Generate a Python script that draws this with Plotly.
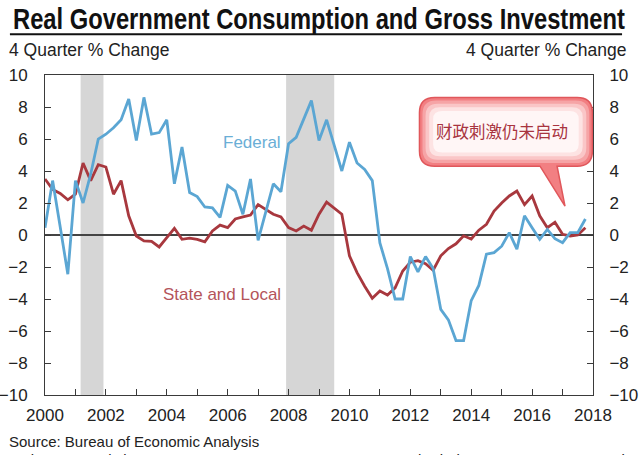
import plotly.graph_objects as go

# ---- data (quarterly, 2000Q1 - 2017Q4), 4-quarter % change ----
start_year = 2000
federal = [0.45, 3.4, 0.5, -2.45, 3.4, 2.0, 3.8, 6.0, 6.3, 6.7, 7.2, 8.5,
           5.9, 8.6, 6.3, 6.4, 7.2, 3.2, 5.5, 2.65, 2.4, 1.75, 1.7, 1.1,
           3.1, 2.75, 1.3, 3.5, -0.33, 1.4, 3.2, 2.7, 5.7, 6.1, 7.3, 8.4,
           5.9, 7.2, 5.6, 4.0, 5.8, 4.5, 4.1, 3.4, -0.5, -2.1, -4.0, -4.0,
           -1.35, -2.3, -1.35, -2.1, -4.65, -5.3, -6.6, -6.6, -4.1, -3.15, -1.2, -1.1,
           -0.7, 0.15, -0.88, 1.2, 0.45, -0.27, 0.35, -0.23, -0.48, 0.15, 0.15, 1.0]
state_local = [3.5, 2.85, 2.6, 2.2, 2.55, 4.5, 3.4, 4.4, 4.25, 2.55, 3.4, 1.2,
               -0.06, -0.37, -0.4, -0.75, -0.17, 0.42, -0.27, -0.2, -0.27, -0.43, 0.25, 0.62,
               0.46, 1.0, 1.13, 1.25, 1.9, 1.6, 1.3, 1.13, 0.46, 0.25, 0.56, 0.3,
               1.3, 2.06, 1.7, 1.3, -1.3, -2.35, -3.2, -3.96, -3.5, -3.75, -3.3, -2.25,
               -1.7, -1.6, -1.8, -2.2, -1.3, -0.85, -0.55, -0.05, -0.25, 0.3, 0.67, 1.5,
               2.0, 2.44, 2.75, 1.9, 2.44, 1.2, 0.46, 0.8, 0.04, -0.06, 0.0, 0.46]
recessions = [(2001.17, 2001.92), (2007.92, 2009.5)]
x_tick_vals = list(range(2000, 2019, 2))
y_tick_vals = list(range(-10, 11, 2))
x_range = [2000, 2018]
y_range = [-10, 10]

dates = [start_year + i / 4 for i in range(len(federal))]

FONT = "Liberation Sans"
AX = "#3a3a3a"
TITLE = "Real Government Consumption and Gross Investment"

fig = go.Figure()
fig.add_trace(go.Scatter(x=dates, y=state_local, mode="lines", name="State and Local",
                         line=dict(color="#a8383e", width=2.8), showlegend=False))
fig.add_trace(go.Scatter(x=dates, y=federal, mode="lines", name="Federal",
                         line=dict(color="#5ba6d3", width=2.8), showlegend=False))
# invisible trace to activate right axis
fig.add_trace(go.Scatter(x=[dates[0]], y=[federal[0]], yaxis="y2", mode="markers",
                         marker=dict(opacity=0), showlegend=False, hoverinfo="skip"))

shapes = []
for a, b in recessions:
    shapes.append(dict(type="rect", xref="x", yref="y", x0=a, x1=b, y0=y_range[0], y1=y_range[1],
                       fillcolor="#d6d6d6", line=dict(width=0), layer="below"))

# title underline
shapes.append(dict(type="line", xref="paper", yref="paper", x0=-0.064, x1=1.053, y0=1.127, y1=1.127,
                   line=dict(color="#111", width=2)))

# speech bubble (annotation decoration)
def bubble(x0, x1, y0, y1, rx, ry, tail=None):
    p = f"M {x0+rx},{y1} L {x1-rx},{y1} Q {x1},{y1} {x1},{y1-ry} L {x1},{y0+ry} Q {x1},{y0} {x1-rx},{y0} "
    if tail:
        tx0, tx1, tipx, tipy = tail
        p += f"L {tx1},{y0} L {tipx},{tipy} L {tx0},{y0} "
    p += f"L {x0+rx},{y0} Q {x0},{y0} {x0},{y0+ry} L {x0},{y1-ry} Q {x0},{y1} {x0+rx},{y1} Z"
    return p

bx0, bx1, by0, by1 = 2012.3, 2017.98, 4.3, 8.6
layers = [
    (0.0, 0.0, 0.5, 0.95, "#f27f82", True),
    (0.1, 0.2, 0.45, 0.85, "#f6a4a6", False),
    (0.2, 0.4, 0.4, 0.75, "#fac6c7", False),
    (0.32, 0.62, 0.35, 0.6, "#fde3e3", False),
    (0.45, 0.85, 0.3, 0.5, "#fff6f6", False),
]
for dx, dy, rx, ry, col, outer in layers:
    shapes.append(dict(
        type="path", xref="x", yref="y",
        path=bubble(bx0 + dx, bx1 - dx, by0 + dy, by1 - dy, rx, ry,
                    (2016.26, 2016.82, 2017.08, 1.8) if outer else None),
        fillcolor=col, line=dict(color="#e0575b", width=1.5) if outer else dict(width=0),
        layer="above"))

annotations = [
    dict(text=TITLE, xref="paper", yref="paper",
         x=-0.062, y=1.175, xanchor="left", yanchor="middle", showarrow=False,
         font=dict(family=FONT, size=30, color="#111", weight="bold")),
    dict(text="4 Quarter % Change", xref="paper", yref="paper", x=-0.07, y=1.078,
         xanchor="left", yanchor="middle", showarrow=False,
         font=dict(family=FONT, size=17.5, color="#222")),
    dict(text="4 Quarter % Change", xref="paper", yref="paper", x=1.066, y=1.078,
         xanchor="right", yanchor="middle", showarrow=False,
         font=dict(family=FONT, size=17.5, color="#222")),
    dict(text="Federal", xref="x", yref="y", x=2006.8, y=5.8, showarrow=False,
         font=dict(family=FONT, size=17, color="#6aaed6")),
    dict(text="State and Local", xref="x", yref="y", x=2005.83, y=-3.7, showarrow=False,
         font=dict(family=FONT, size=17, color="#b4545a")),
    dict(text="财政刺激仍未启动", xref="x", yref="y", x=2015.0, y=6.48, showarrow=False,
         font=dict(family="Noto Sans CJK SC", size=16.5, color="#a8343f")),
    dict(text="Source: Bureau of Economic Analysis", xref="paper", yref="paper", x=-0.07, y=-0.145,
         xanchor="left", yanchor="middle", showarrow=False,
         font=dict(family=FONT, size=15, color="#222")),
    dict(text="and Haver Analytics", xref="paper", yref="paper", x=-0.07, y=-0.2,
         xanchor="left", yanchor="middle", showarrow=False,
         font=dict(family=FONT, size=15, color="#222")),
    dict(text="Note: Shaded areas are NBER recessions", xref="paper", yref="paper", x=0.585, y=-0.2,
         xanchor="left", yanchor="middle", showarrow=False,
         font=dict(family=FONT, size=15, color="#222")),
]

fig.update_layout(
    width=640, height=455,
    margin=dict(l=45, r=47, t=75, b=60, autoexpand=False),
    paper_bgcolor="white", plot_bgcolor="white",
    shapes=shapes, annotations=annotations,
    font=dict(family=FONT, size=17, color="#222"),
    xaxis=dict(range=x_range, tickvals=x_tick_vals, ticks="inside", ticklen=6, tickwidth=1,
               tickcolor=AX, showline=True, linecolor=AX, linewidth=1, mirror=True,
               showgrid=False, zeroline=False, tickfont=dict(size=17), ticklabelstandoff=5,
               automargin=False,
               minor=dict(dtick=1, ticks="inside", ticklen=6, tickcolor=AX, showgrid=False)),
    yaxis=dict(range=y_range, tickvals=y_tick_vals, ticks="inside", ticklen=6, tickwidth=1,
               tickcolor=AX, showline=True, linecolor=AX, linewidth=1, automargin=False,
               showgrid=False, zeroline=True, zerolinecolor="#444", zerolinewidth=1.5,
               tickfont=dict(size=17), ticklabelstandoff=13),
    yaxis2=dict(range=y_range, tickvals=y_tick_vals, overlaying="y", side="right",
                ticks="inside", ticklen=6, tickwidth=1, tickcolor=AX, showline=True,
                linecolor=AX, linewidth=1, showgrid=False, zeroline=False, automargin=False,
                tickfont=dict(size=17), ticklabelstandoff=12),
)

# condense the heavy title horizontally (the original uses a condensed typeface)
post_script = """
var gd = document.getElementById('{plot_id}');
var ts = gd.querySelectorAll('text.annotation-text');
for (var i = 0; i < ts.length; i++) {
  var t = ts[i];
  if (t.textContent.indexOf('Real Government') === 0) {
    var bb = t.getBBox();
    var s = 612 / bb.width;
    t.setAttribute('transform', 'translate(' + bb.x + ',0) scale(' + s + ',1) translate(' + (-bb.x) + ',0)');
  }
}
"""

fig.write_html("out.html", post_script=post_script)
